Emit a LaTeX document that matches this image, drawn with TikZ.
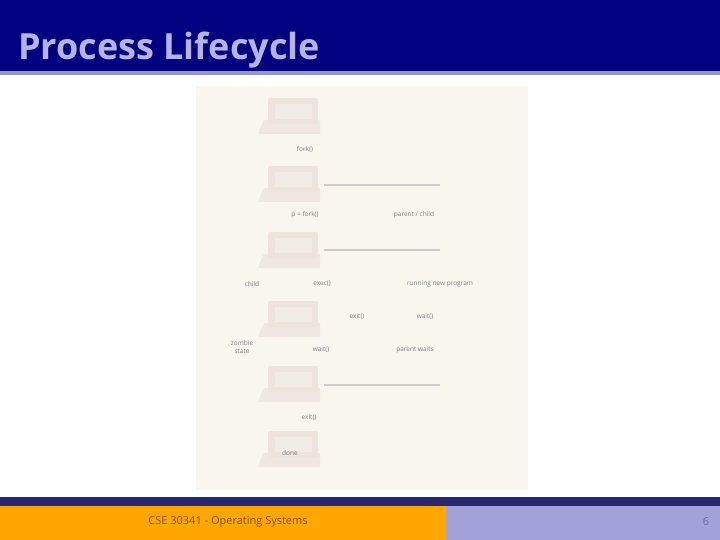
\documentclass[tikz,border=0pt]{standalone}
\usepackage{fontspec}
\setmainfont{Open Sans}
\begin{document}
\begin{tikzpicture}[x=1pt,y=-1pt,
  lbl/.style={font=\fontsize{6.5}{7.5}\selectfont, text=black!50, inner sep=1pt},
  tline/.style={draw=black!20, line width=1.4pt},
  pc/.pic={
    \fill[fill=black!28!brown!14!white] (-30,12) -- (-26,4) -- (30,4) -- (30,18) -- (-32,18) -- cycle;
    \fill[fill=black!30!brown!16!white, rounded corners=2pt] (-22,-18) rectangle (28,8);
    \fill[fill=black!22!brown!12!white] (-15,-12) rectangle (22,3);
  }]
\useasboundingbox (0,0) rectangle (720,540);
% background
\fill[white] (0,0) rectangle (720,540);
% header
\fill[fill={rgb,255:red,0;green,0;blue,128}] (0,0) rectangle (720,71);
\fill[fill={rgb,255:red,150;green,150;blue,200}] (0,71) rectangle (720,75);
\node[anchor=base west, inner sep=0pt, text={rgb,255:red,180;green,180;blue,230},
  font=\fontsize{36}{38}\selectfont\bfseries] (title) at (18,60) {Process Lifecycle};
% footer
\fill[fill={rgb,255:red,40;green,40;blue,110}] (0,497) rectangle (720,506);
\fill[fill={rgb,255:red,255;green,166;blue,0}] (0,506) rectangle (446,540);
\fill[fill={rgb,255:red,162;green,162;blue,216}] (446,506) rectangle (720,540);
\node[font=\fontsize{11}{12}\selectfont, text={rgb,255:red,130;green,85;blue,10}] (foot) at (228,522) {CSE 30341 - Operating Systems};
\node[font=\fontsize{11}{12}\selectfont, text={rgb,255:red,110;green,110;blue,160}] (pg) at (706,522) {6};
% figure panel
\fill[fill={rgb,255:red,249;green,246;blue,240}] (196,86) rectangle (528,490);
% computers
\pic at (290,116) {pc};
\pic at (290,184) {pc};
\pic at (290,250) {pc};
\pic at (290,319) {pc};
\pic at (290,384) {pc};
\pic at (290,449) {pc};
% timelines
\coordinate (l1a) at (324,185); \coordinate (l1b) at (440,185);
\coordinate (l2a) at (324,250); \coordinate (l2b) at (440,250);
\coordinate (l3a) at (324,385); \coordinate (l3b) at (440,385);
\draw[tline] (l1a) -- (l1b);
\draw[tline] (l2a) -- (l2b);
\draw[tline] (l3a) -- (l3b);
% labels
\node[lbl] (t1) at (305,150) {fork()};
\node[lbl] (t2a) at (305,215) {p = fork()};
\node[lbl] (t2b) at (414,215) {parent / child};
\node[lbl] (t3a) at (252,284) {child};
\node[lbl] (t3b) at (322,284) {exec()};
\node[lbl] (t3c) at (440,284) {running new program};
\node[lbl] (t4a) at (357,317) {exit()};
\node[lbl] (t4b) at (425,317) {wait()};
\node[lbl, align=center] (t4c) at (242,347) {zombie\\state};
\node[lbl] (t5a) at (321,350) {wait()};
\node[lbl] (t5b) at (415,350) {parent waits};
\node[lbl] (t6) at (309,418) {exit()};
\node[lbl] (t7) at (290,453) {done};
\end{tikzpicture}
\end{document}
